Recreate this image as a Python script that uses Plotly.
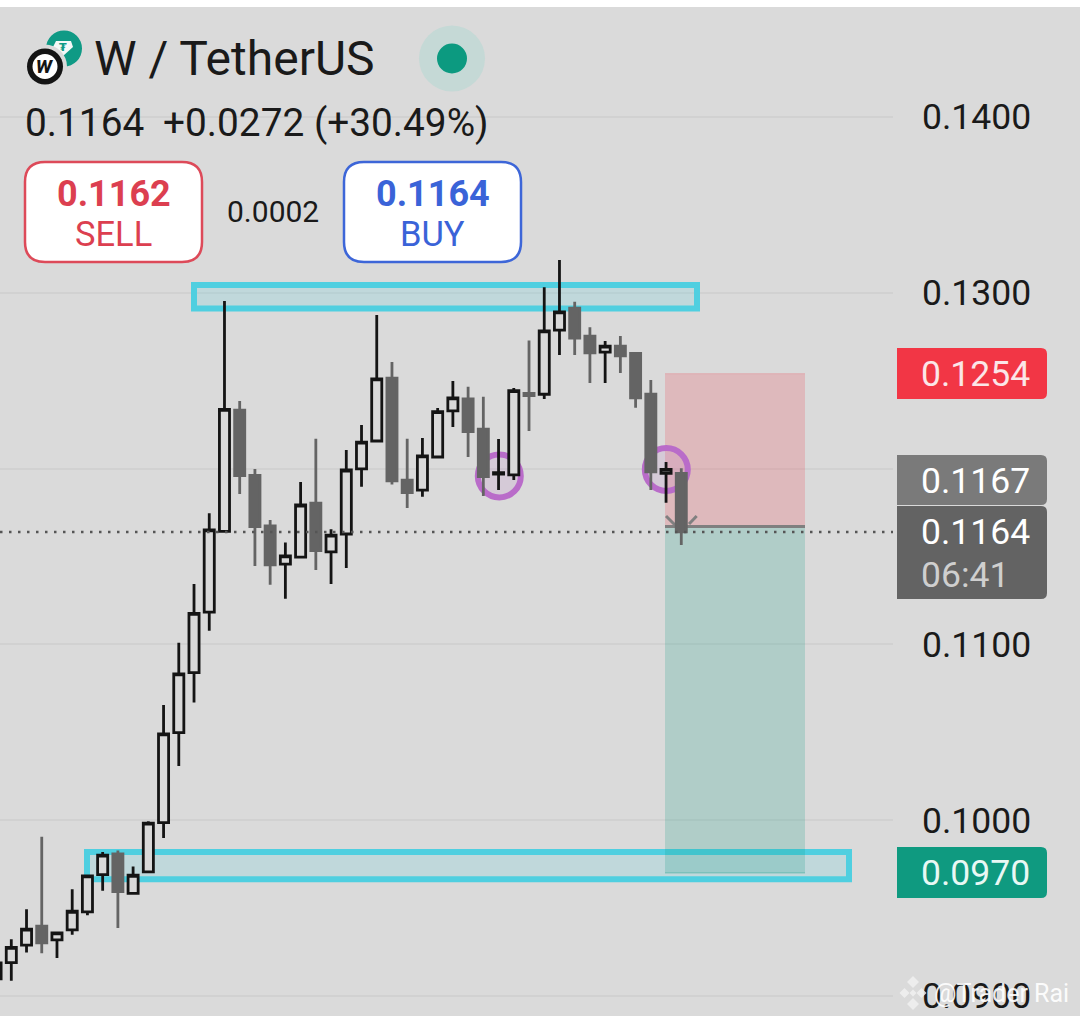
import plotly.graph_objects as go

# ---------- data ----------
candle_index = list(range(46))
opens = [.09097,.09190,.09289,.09398,.09319,.09376,.09478,.09690,.09808,.09584,.09706,.09986,.10498,.10839,.11184,.11643,
         .12333,.11962,.11674,.11457,.11497,.11803,.11526,.11628,.11998,.12157,.12515,.11935,.11878,.12066,.12328,.12396,
         .12224,.11969,.11964,.12428,.12423,.12788,.12912,.12754,.12663,.12696,.12656,.12423,.11973,.11973]
closes = [.09188,.09277,.09380,.09303,.09359,.09482,.09683,.09801,.09594,.09687,.09983,.10491,.10832,.11177,.11651,.12337,
          .11960,.11670,.11453,.11503,.11793,.11533,.11622,.11992,.12151,.12510,.11931,.11863,.12072,.12324,.12402,.12210,
          .11954,.11977,.12443,.12415,.12783,.12891,.12743,.12659,.12697,.12641,.12403,.11982,.11996,.11640]
highs = [.09205,.09323,.09493,.09906,.09359,.09607,.09690,.09819,.09827,.09736,.09994,.10655,.11010,.11344,.11746,.12953,
         .12385,.11998,.11708,.11579,.11924,.12170,.11655,.12106,.12248,.12874,.12606,.12170,.12174,.12345,.12498,.12466,
         .12409,.12168,.12459,.12728,.13031,.13187,.12949,.12804,.12726,.12754,.12663,.12504,.12038,.12002]
lows = [.09086,.09087,.09247,.09243,.09216,.09349,.09459,.09599,.09387,.09576,.09698,.09899,.10308,.10669,.11078,.11636,
        .11856,.11446,.11340,.11260,.11492,.11423,.11344,.11435,.11897,.12157,.11909,.11776,.11840,.12066,.12237,.12066,
        .11844,.11878,.11935,.12214,.12396,.12646,.12646,.12487,.12487,.12544,.12346,.11878,.11806,.11566]

tick_values = [0.14, 0.13, 0.12, 0.11, 0.10, 0.09]
tick_labels = ["0.1400", "0.1300", "", "0.1100", "0.1000", "0.0900"]

last_price = 0.1164
stop_price = 0.1254
entry_price = 0.1167
target_price = 0.0970
resistance_zone = [0.12911, 0.13044]
support_zone = [0.09664, 0.09819]

# ---------- page geometry helpers ----------
W, H = 1080, 1016
PLOT_RIGHT = 893
def X(px): return (px + 3.93) / 15.227
def Y(py): return 0.14 - (py - 117) / 17580
def PX(px): return px / W
def PY(py): return 1 - py / H

BG = "#dadada"
FONT = "Roboto"
INK = "#1a1a1a"
shapes, ann = [], []

def text(px, py, s, size, color, anchor="left", bold=False, family=FONT):
    ann.append(dict(x=PX(px), y=PY(py), xref="paper", yref="paper", text=f"<b>{s}</b>" if bold else s,
                    showarrow=False, xanchor=anchor, yanchor="middle",
                    font=dict(family=family, size=size, color=color), borderpad=0, borderwidth=0))

def rrect(x0, y0, x1, y1, r, left=True):
    rl = r if left else 0
    a, b, c, d = PX(x0), PY(y0), PX(x1), PY(y1)
    rxr, ryr = r / W, r / H
    rxl, ryl = rl / W, rl / H
    p = f"M{a+rxl},{b} L{c-rxr},{b} Q{c},{b} {c},{b-ryr} L{c},{d+ryr} Q{c},{d} {c-rxr},{d} L{a+rxl},{d}"
    p += f" Q{a},{d} {a},{d+ryl} L{a},{b-ryl} Q{a},{b} {a+rxl},{b} Z"
    return p

def pbox(x0, y0, x1, y1, r, fill, line=None, lw=0, left=True):
    shapes.append(dict(type="path", xref="paper", yref="paper", path=rrect(x0, y0, x1, y1, r, left),
                       fillcolor=fill, line=dict(color=line or fill, width=lw), layer="above"))

def pcircle(cx, cy, r, fill):
    shapes.append(dict(type="circle", xref="paper", yref="paper", x0=PX(cx - r), x1=PX(cx + r),
                       y0=PY(cy + r), y1=PY(cy - r), fillcolor=fill, line=dict(width=0), layer="above"))

def ppoly(points, fill):
    path = "M" + " L".join(f"{PX(a)},{PY(b)}" for a, b in points) + " Z"
    shapes.append(dict(type="path", xref="paper", yref="paper", path=path, fillcolor=fill,
                       line=dict(width=0), layer="above"))

# ---------- shapes tied to the price scale ----------
# zones (under the risk / reward blocks)
for (lo, hi, a, b) in [(resistance_zone[0], resistance_zone[1], 194, 697), (support_zone[0], support_zone[1], 87, 849)]:
    shapes.append(dict(type="rect", xref="x", yref="y", x0=X(a), x1=X(b), y0=lo, y1=hi,
                       fillcolor="rgba(77,208,225,0.18)", line=dict(color="#4fcfe0", width=6), layer="between"))
# risk / reward blocks
shapes.append(dict(type="rect", xref="x", yref="y", x0=X(665), x1=X(805), y0=entry_price, y1=stop_price,
                   fillcolor="rgba(242,54,69,0.2)", line=dict(width=0), layer="between"))
shapes.append(dict(type="rect", xref="x", yref="y", x0=X(665), x1=X(805), y0=target_price, y1=entry_price,
                   fillcolor="rgba(8,153,129,0.2)", line=dict(width=0), layer="between"))
shapes.append(dict(type="line", xref="x", yref="y", x0=X(665), x1=X(805), y0=entry_price, y1=entry_price,
                   line=dict(color="#7f7f7f", width=3), layer="between"))
shapes.append(dict(type="line", xref="x", yref="y", x0=X(665), x1=X(805), y0=target_price, y1=target_price,
                   line=dict(color="rgba(8,153,129,0.35)", width=1), layer="between"))
shapes.append(dict(type="line", xref="x", yref="y", x0=X(665), x1=X(805), y0=stop_price, y1=stop_price,
                   line=dict(color="rgba(242,54,69,0.2)", width=1), layer="between"))
# circles
for cx, cy in [(499.3, 476), (666.3, 469.5)]:
    shapes.append(dict(type="circle", xref="x", yref="y", x0=X(cx - 21.5), x1=X(cx + 21.5), y0=Y(cy + 21.5), y1=Y(cy - 21.5),
                       fillcolor="rgba(186,104,200,0.14)", line=dict(color="#b96cc9", width=6), layer="between"))
# last-price dotted line
shapes.append(dict(type="line", xref="x", yref="y", x0=X(0), x1=X(PLOT_RIGHT), y0=last_price, y1=last_price,
                   line=dict(color="#555555", width=2.5, dash="2.5px,6.5px"), layer="above"))
# small chevrons on the position tool
for a, b, c, d in [(666, 516, 675, 525), (696.7, 516, 689, 524)]:
    shapes.append(dict(type="line", xref="x", yref="y", x0=X(a), x1=X(c), y0=Y(b), y1=Y(d),
                       line=dict(color="#808080", width=3), layer="between"))

# ---------- page furniture ----------
shapes.append(dict(type="rect", xref="paper", yref="paper", x0=0, x1=1, y0=PY(7), y1=1,
                   fillcolor="#ffffff", line=dict(width=0), layer="above"))

# logos
pcircle(64, 48.5, 18, "#0f9a85")
ppoly([(56, 41), (71, 41), (73, 47), (63, 56), (53, 47)], "#f4f8f7")
pcircle(45, 66.5, 22, BG)
pcircle(45, 66.5, 18, "#141414")
pcircle(45, 66.5, 12.5, "#ffffff")
# live dot
pcircle(452, 58.5, 33, "#c5d9d6")
pcircle(452, 58.5, 15, "#0c9a80")

text(94, 58, "W / TetherUS", 48, INK)
text(24.5, 122, "0.1164", 38.8, INK)
text(162.5, 122, "+0.0272 (+30.49%)", 38.8, INK)
text(45, 65, "<i>w</i>", 23, "#141414", anchor="center", bold=True)
text(63, 47, "₮", 11, "#0f9a85", anchor="center", bold=True, family="DejaVu Sans")

# sell / buy
RED_T, BLUE_T = "#dc3f50", "#3a63d8"
pbox(25, 162, 202, 262, 20, "#ffffff", "#dd4a59", 2.5)
pbox(344, 162, 521, 262, 20, "#ffffff", "#3d66d8", 2.5)
text(113.5, 193.5, "0.1162", 36, RED_T, "center", True)
text(113.5, 234, "SELL", 34.5, RED_T, "center")
text(432.5, 193.5, "0.1164", 36, BLUE_T, "center", True)
text(432.5, 234, "BUY", 34.5, BLUE_T, "center")
text(273, 212, "0.0002", 30, INK, "center")

# right-hand price labels
pbox(897, 348, 1047, 399, 6, "#f23645", left=False)
pbox(897, 455, 1047, 505, 6, "#7a7a7a", left=False)
pbox(897, 506, 1047, 599, 6, "#636363", left=False)
pbox(897, 847, 1047, 898, 6, "#0f9a80", left=False)
text(921, 374, "0.1254", 35.5, "#fbe6e8")
text(921, 481, "0.1167", 35.5, "#ffffff")
text(921, 532, "0.1164", 35.5, "#ffffff")
text(921, 575, "06:41", 35.5, "#cfcfcf")
text(921, 873, "0.0970", 35.5, "#e8f8f4")

# watermark
dia = [(913, 982, 6), (904.5, 993, 5), (921.5, 993, 5), (913, 1004, 6), (913, 993, 3.5)]
for cx, cy, r in dia:
    ppoly([(cx - r, cy), (cx, cy - r), (cx + r, cy), (cx, cy + r)], "rgba(240,240,240,0.85)")
text(934, 993, "@Trader Rai", 25, "rgba(255,255,255,0.92)")

# ---------- figure ----------
fig = go.Figure(go.Candlestick(
    x=candle_index, open=opens, high=highs, low=lows, close=closes,
    increasing=dict(line=dict(color="#141414", width=2.8), fillcolor="#d9d9d9"),
    decreasing=dict(line=dict(color="#646464", width=2.8), fillcolor="#646464"),
    whiskerwidth=0, showlegend=False, hoverinfo="skip",
))
fig.update_layout(
    width=W, height=H, margin=dict(l=0, r=0, t=0, b=0), paper_bgcolor=BG, plot_bgcolor=BG,
    boxgap=0.337, boxgroupgap=0, showlegend=False, shapes=shapes, annotations=ann, font=dict(family=FONT),
    xaxis=dict(domain=[0, PLOT_RIGHT / W], range=[X(0), X(PLOT_RIGHT)], visible=False,
               rangeslider=dict(visible=False), type="linear"),
    yaxis=dict(domain=[0, 1], range=[Y(H), Y(0)], side="right", anchor="x", tickvals=tick_values, ticktext=tick_labels,
               ticks="", ticklabelstandoff=28, ticklabeloverflow="allow", showgrid=True, gridcolor="#d1d1d1", gridwidth=2,
               zeroline=False, showline=False, tickfont=dict(family=FONT, size=35.5, color=INK)),
)
fig.write_html("out.html", config={"displayModeBar": False},
               post_script="document.body.style.margin='0';document.documentElement.style.overflow='hidden';")
